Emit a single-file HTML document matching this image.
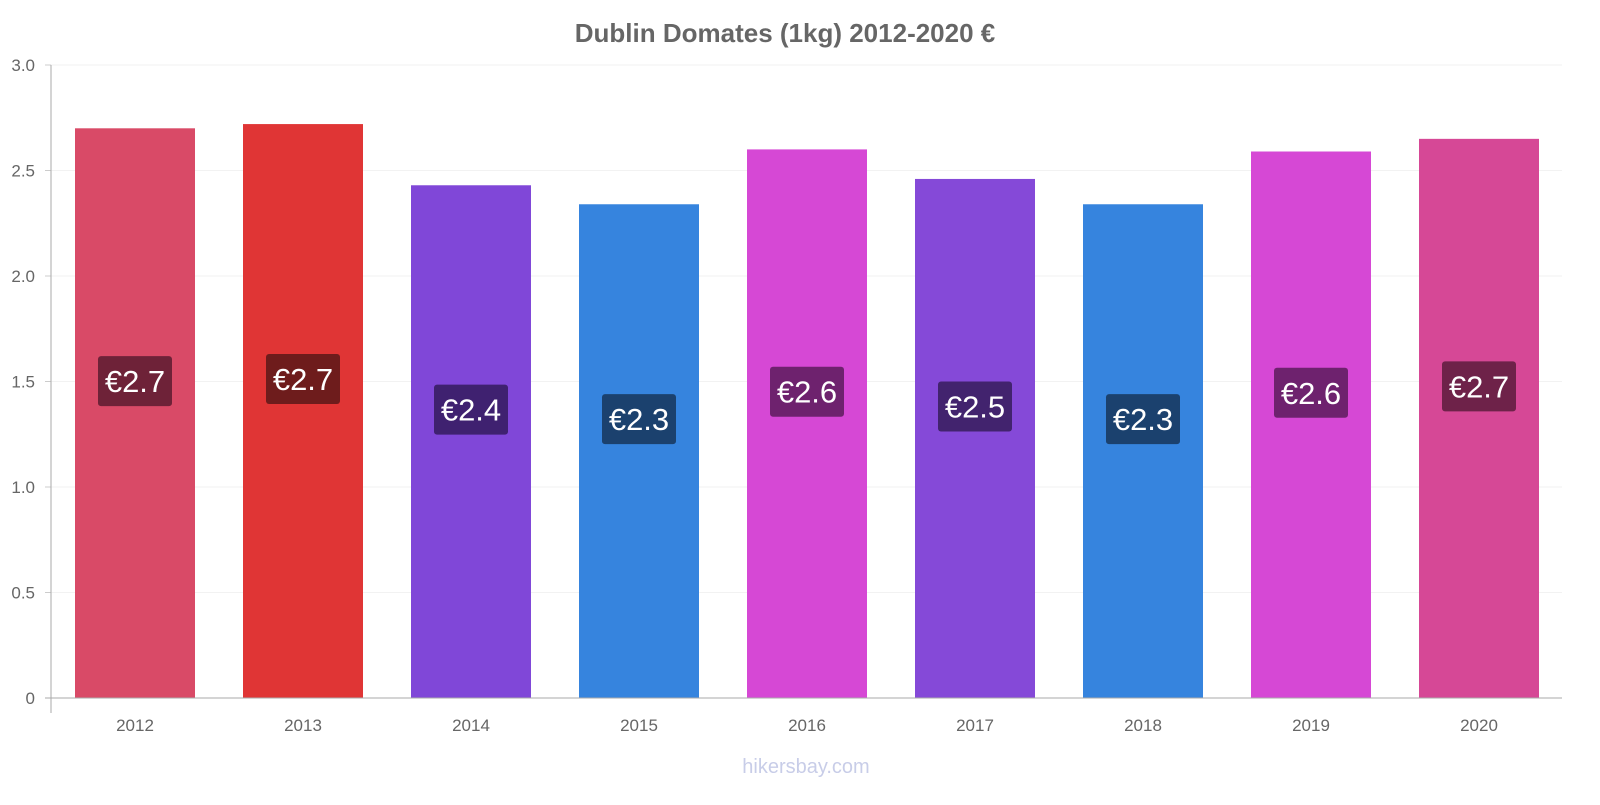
<!DOCTYPE html>
<html><head><meta charset="utf-8"><style>
body{margin:0;background:#fff;width:1600px;height:800px;overflow:hidden;font-family:"Liberation Sans",sans-serif}
</style></head><body>
<svg width="1600" height="800">
<text x="785" y="42" text-anchor="middle" font-size="26" font-weight="bold" fill="#666">Dublin Domates (1kg) 2012-2020 €</text>
<g id="grid"></g><g id="bars"></g><g id="axes"></g>
<text x="806" y="773" text-anchor="middle" font-size="20" fill="#c8cde8">hikersbay.com</text>
</svg>
<script>
const categories=["2012","2013","2014","2015","2016","2017","2018","2019","2020"];
const values=[2.70,2.72,2.43,2.34,2.60,2.46,2.34,2.59,2.65];
const valueLabels=["€2.7","€2.7","€2.4","€2.3","€2.6","€2.5","€2.3","€2.6","€2.7"];
const yTicks=[0,0.5,1.0,1.5,2.0,2.5,3.0];
const yTickLabels=["0","0.5","1.0","1.5","2.0","2.5","3.0"];
const colors=["#d94a67","#e03535","#8047d8","#3684de","#d648d5","#8549d8","#3684de","#d648d5","#d64896"];
const labelBg=["#6e2238","#6e1c1c","#3f2170","#1b416e","#6e226e","#42236e","#1b416e","#6e226e","#6e2249"];
const NS="http://www.w3.org/2000/svg";
const y0=698,yTop=65,yMax=3.0,x0=51,step=168,bw=120;
const y=v=>y0-(v/yMax)*(y0-yTop);
const xc=i=>135+i*step;
function mk(t,a,p){const e=document.createElementNS(NS,t);for(const k in a)e.setAttribute(k,a[k]);p.appendChild(e);return e;}
const grid=document.getElementById('grid'),bars=document.getElementById('bars'),axes=document.getElementById('axes');
yTicks.forEach((t,i)=>{
 const g=mk('line',{x1:x0,x2:1562,y1:y(t),y2:y(t),stroke:'#f2f2f2'},grid);
 
 
 const tx=mk('text',{x:35,y:y(t)+6,'text-anchor':'end','font-size':17,fill:'#666'},axes);
 tx.textContent=yTickLabels[i];
 
 
 mk('line',{x1:45,x2:x0,y1:y(t),y2:y(t),stroke:'#ccc'},axes);
});
values.forEach((v,i)=>{
 const r=mk('rect',{x:xc(i)-bw/2,y:y(v),width:bw,height:y0-y(v),fill:colors[i]},bars);
 
 
 const cy=(y(v)+y0)/2-32;
 const lb=mk('rect',{x:xc(i)-37,y:cy-25,width:74,height:50,rx:3,fill:labelBg[i]},bars);
 
 
 const t=mk('text',{x:xc(i),y:cy+11,'text-anchor':'middle','font-size':31,fill:'#fff'},bars);
 t.textContent=valueLabels[i];
 
 
 const xl=mk('text',{x:xc(i),y:731,'text-anchor':'middle','font-size':17,fill:'#666'},axes);
 xl.textContent=categories[i];
 
 
});
const ya=mk('line',{x1:x0,x2:x0,y1:yTop,y2:713,stroke:'#aaa'},axes);


const xa=mk('line',{x1:45,x2:1562,y1:y0,y2:y0,stroke:'#aaa'},axes);


</script>
</body></html>
